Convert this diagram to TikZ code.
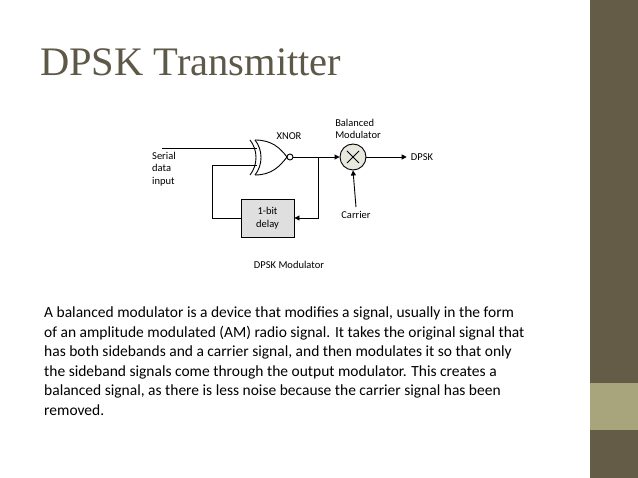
\documentclass[tikz,border=0pt]{standalone}
\usepackage{fontspec}
\setmainfont{Carlito}
\newfontfamily\titlefont{Liberation Serif}
\usetikzlibrary{arrows.meta,calc}
\definecolor{olive}{HTML}{655C48}
\definecolor{lolive}{HTML}{A8A47C}
\definecolor{ttl}{HTML}{5E5848}
\tikzset{wire/.style={line width=0.9pt,black},arr/.style={wire,-{Triangle[length=5pt,width=5pt]}},lbl/.style={font=\fontsize{10.5}{12.5}\selectfont,inner sep=0pt,align=left}}
\begin{document}
\begin{tikzpicture}[x=1pt,y=-1pt]
\useasboundingbox (0,0) rectangle (638,478);
\fill[white] (0,0) rectangle (638,478);
\fill[olive] (590,0) rectangle (638,478);
\fill[lolive] (590,383) rectangle (638,430);
\node[anchor=base west,inner sep=0pt,text=ttl,font=\titlefont\fontsize{40.5}{48}\selectfont] (title) at (40,76) {DPSK Transmitter};
% gate
\draw[wire] (250,140) .. controls (258,150) and (258,165) .. (250,175);
\draw[wire] (255,140) .. controls (263,150) and (263,165) .. (255,175);
\draw[wire] (255,140) .. controls (272,140) and (280,148) .. (287,157);
\draw[wire] (255,175) .. controls (272,175) and (280,166) .. (287,157);
\node[draw,circle,line width=0.9pt,minimum size=6pt,inner sep=0pt] (bub) at (290,157) {};
\node[lbl] (xnor) at (289,136) {XNOR};
\coordinate (in1) at (257,148);
\coordinate (in2) at (257,165);
\coordinate (s0) at (162,148);
\draw[wire] (s0) -- (in1);
\node[lbl,anchor=north west] (sdi) at (152,152) {Serial\\data\\input};
% modulator
\node[draw,circle,line width=0.9pt,minimum size=26pt,inner sep=0pt,fill=lolive!25] (mod) at (353,157) {};
\draw[line width=0.8pt] ($(mod)+(-6,-6)$) -- ($(mod)+(6,6)$) ($(mod)+(-6,6)$) -- ($(mod)+(6,-6)$);
\node[lbl,anchor=south] (bm) at (358,139) {Balanced\\Modulator};
\coordinate (j) at (318,157);
\draw[arr] (bub) -- (mod);
\node[draw,line width=0.9pt,fill=gray!25,minimum width=53pt,minimum height=38pt,lbl,align=center] (dly) at (267.5,218) {1-bit\\delay};
\draw[arr] (j) |- (dly.east);
\draw[wire] (dly.west) -| (212,165) -- (in2);
\node[lbl] (dpsk) at (422,157) {DPSK};
\coordinate (dpa) at ($(dpsk.west)+(-4,0)$);
\draw[arr] (mod.east) -- (dpa);
\node[lbl] (car) at (356,215) {Carrier};
\coordinate (ca) at ($(car.north)+(0,-4)$);
\draw[arr] (ca) -- (mod.south);
\node[lbl] (cap) at (289,265) {DPSK Modulator};
\node[anchor=north west,inner sep=0pt,align=left,font=\fontsize{15.5}{19.5}\selectfont] (body) at (44,307) {A balanced modulator is a device that modifies a signal, usually in the form\\of an amplitude modulated (AM) radio signal. It takes the original signal that\\has both sidebands and a carrier signal, and then modulates it so that only\\the sideband signals come through the output modulator. This creates a\\balanced signal, as there is less noise because the carrier signal has been\\removed.};
\end{tikzpicture}
\end{document}
